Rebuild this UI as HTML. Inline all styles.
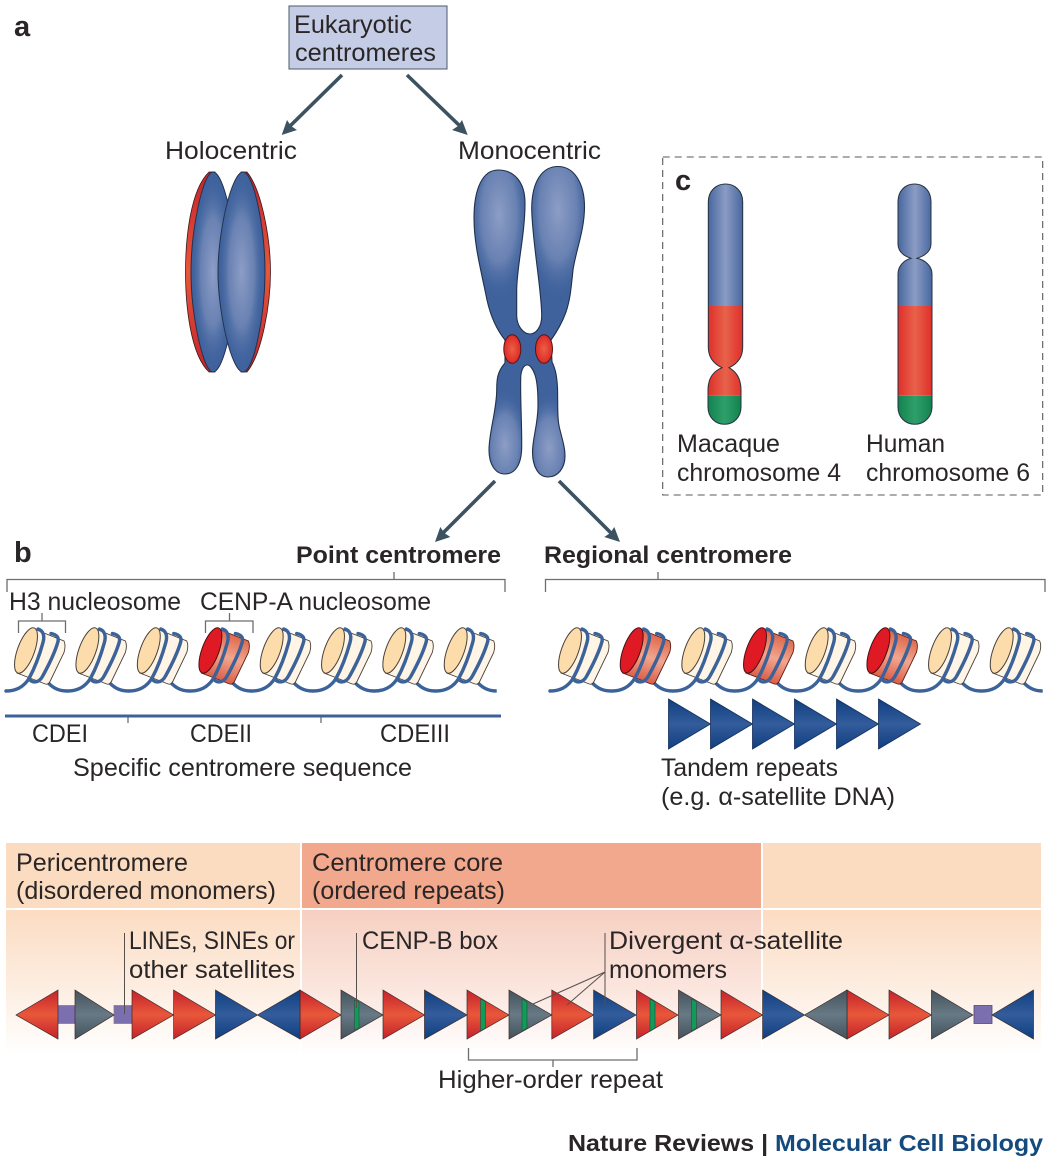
<!DOCTYPE html>
<html><head><meta charset="utf-8"><style>
html,body{margin:0;padding:0;background:#fff}
svg{display:block}
text{font-family:"Liberation Sans",sans-serif;font-size:25px;fill:#2a2627}
.b{font-weight:bold;font-size:24px}
.l{font-weight:bold;font-size:29px}
</style></head><body>
<svg xmlns="http://www.w3.org/2000/svg" width="1050" height="1163" viewBox="0 0 1050 1163">
<defs>
<linearGradient id="gp" x1="0" y1="0" x2="0" y2="1"><stop offset="0" stop-color="#fcdcc2"/><stop offset=".55" stop-color="#fdeee2"/><stop offset="1" stop-color="#fff"/></linearGradient>
<linearGradient id="gc" x1="0" y1="0" x2="0" y2="1"><stop offset="0" stop-color="#f6d0c2"/><stop offset=".55" stop-color="#fbe6de"/><stop offset="1" stop-color="#fff"/></linearGradient>
<linearGradient id="tr" x1="0" y1="0" x2="0" y2="1"><stop offset="0" stop-color="#c5222a"/><stop offset=".5" stop-color="#e8573a"/><stop offset="1" stop-color="#c5222a"/></linearGradient>
<linearGradient id="tb" x1="0" y1="0" x2="0" y2="1"><stop offset="0" stop-color="#0f3f80"/><stop offset=".5" stop-color="#335c9b"/><stop offset="1" stop-color="#0f3f80"/></linearGradient>
<linearGradient id="tg" x1="0" y1="0" x2="0" y2="1"><stop offset="0" stop-color="#44535c"/><stop offset=".5" stop-color="#677985"/><stop offset="1" stop-color="#44535c"/></linearGradient>
<linearGradient id="hb" x1="0" y1="0" x2="1" y2="0"><stop offset="0" stop-color="#47679f"/><stop offset=".5" stop-color="#8b9cc4"/><stop offset="1" stop-color="#47679f"/></linearGradient>
<linearGradient id="hr" x1="0" y1="0" x2="1" y2="0"><stop offset="0" stop-color="#e02f2a"/><stop offset=".5" stop-color="#e7624a"/><stop offset="1" stop-color="#e02f2a"/></linearGradient>
<linearGradient id="hg" x1="0" y1="0" x2="1" y2="0"><stop offset="0" stop-color="#128250"/><stop offset=".5" stop-color="#2f9f6a"/><stop offset="1" stop-color="#128250"/></linearGradient>
<linearGradient id="nb" x1=".65" y1="0" x2=".35" y2="1"><stop offset="0" stop-color="#d95a3c"/><stop offset=".5" stop-color="#f2a68f"/><stop offset="1" stop-color="#d8513a"/></linearGradient>
<radialGradient id="glow"><stop offset="0" stop-color="#8d9ec6"/><stop offset=".55" stop-color="#7c90bc" stop-opacity=".7"/><stop offset="1" stop-color="#3f629d" stop-opacity="0"/></radialGradient>
<radialGradient id="ov"><stop offset="0" stop-color="#ec5f45"/><stop offset="1" stop-color="#dd2a26"/></radialGradient>
<clipPath id="cm"><path id="cmp" d="M498,170 C515,170 525,183 525,203 C525,235 517,265 516.7,290 L516.7,316 C517,327 524,334 530,334 C536,334 541.7,327 541.7,316 C541.7,290 532,240 531.7,208 C532,180 543,166.5 558,166.5 C574,166.5 584.5,183 584.5,207 C584.5,230 576,250 573,270 C571,290 570,300 566,312 C562,323 556,333 551,340 L552,362 C556,370 557,378 557.5,388 C558,405 557,420 560,430 C563,442 565,448 565,456 C565,468 558,477 548,477 C538,477 532.5,466 532.5,452 C532.5,438 538,425 538,405 C538,392 537.5,382 535,375 C533,369 530,365 527.3,365 C524,365 521.5,369 520.8,376 C520,395 522,425 521.7,447 C521.5,465 515,474 505,474 C495,474 489,464 489,450 C489,432 496.7,410 496.7,390 C496.7,380 497,372 505,363 L505,340 C497,330 491,318 487,300 C481,270 474,245 474,218 C474,188 483,170 498,170 Z"/></clipPath>
<g id="nw">
<path d="M20,30 C26,37 32,40.5 41,40.5" fill="none" stroke="#3b6299" stroke-width="3.4"/>
<path d="M8,-21.5 L38,-9.5 Q40,-5 38,2 L24,31 Q22,35 18,33 L-9,22.5 Z" fill="#fef5e7" stroke="#4a4038" stroke-width=".9"/>
<ellipse cx="0" cy="0" rx="8.5" ry="24" transform="rotate(20)" fill="#fddcab" stroke="#4a4038" stroke-width="1"/>
</g>
<g id="nr">
<path d="M20,30 C26,37 32,40.5 41,40.5" fill="none" stroke="#3b6299" stroke-width="3.4"/>
<path d="M8,-21.5 L38,-9.5 Q40,-5 38,2 L24,31 Q22,35 18,33 L-9,22.5 Z" fill="url(#nb)" stroke="#5a2018" stroke-width=".9"/>
<ellipse cx="0" cy="0" rx="8.5" ry="24" transform="rotate(20)" fill="#e01a24" stroke="#4a1010" stroke-width="1"/>
</g>
<path id="dn" fill="none" stroke="#3b6299" stroke-width="3.4" stroke-linecap="round" d="M-20,40.5 C-10,40.5 -2,36 3,28 C9,17 14,3 17,-8 C19,-15 17,-20 12,-21.5 M3,28 C6,33 13,33 17,25 C23,14 29,2 32,-9 C33,-14 30,-16 25,-17"/>
</defs>

<!-- panel a -->
<rect x="289" y="6" width="158" height="63" fill="#c5cde6" stroke="#4a5a6a" stroke-width="1"/>
<text x="294" y="33" textLength="118" lengthAdjust="spacingAndGlyphs">Eukaryotic</text>
<text x="295" y="61" textLength="141" lengthAdjust="spacingAndGlyphs">centromeres</text>
<text class="l" x="14" y="36">a</text>
<text x="165" y="159" textLength="132" lengthAdjust="spacingAndGlyphs">Holocentric</text>
<text x="458" y="159" textLength="143" lengthAdjust="spacingAndGlyphs">Monocentric</text>
<g stroke="#3c5260" stroke-width="3.6" fill="none">
<line x1="342" y1="75" x2="288" y2="128"/><line x1="407" y1="75" x2="461" y2="127"/>
<line x1="495" y1="481" x2="441" y2="535"/><line x1="559" y1="481" x2="613" y2="535"/>
</g>
<g fill="#3c5260">
<polygon points="281.7,135 287,120 291,126 297,130"/>
<polygon points="467.7,135 462,120 458,126 452,130"/>
<polygon points="435,542 440.3,527 444.3,533 450.3,537"/>
<polygon points="620,542 614.3,527 610.3,533 604.3,537"/>
</g>

<!-- holocentric -->
<path d="M209,172 C190,190 185.5,240 185.5,272 C185.5,304 190,354 209,372 L215,372 L215,172 Z" fill="url(#tr)" stroke="#3a1a1a" stroke-width=".8"/>
<path d="M247,172 C262,190 270.5,240 270.5,272 C270.5,304 262,354 247,372 L241,372 L241,172 Z" fill="url(#tr)" stroke="#3a1a1a" stroke-width=".8"/>
<path d="M213,172 C203,172 191,230 191,272 C191,314 203,372 213,372 C224,372 236,314 236,272 C236,230 224,172 213,172 Z" fill="#3f629d" stroke="#22304a" stroke-width="1"/>
<ellipse cx="213" cy="272" rx="22" ry="98" fill="url(#glow)"/>
<path d="M243,172 C232,172 218,230 218,272 C218,314 232,372 243,372 C254,372 265,314 265,272 C265,230 254,172 243,172 Z" fill="#3f629d" stroke="#22304a" stroke-width="1"/>
<ellipse cx="241.5" cy="272" rx="23" ry="99" fill="url(#glow)"/>

<!-- monocentric -->
<path d="M498,170 C515,170 525,183 525,203 C525,235 517,265 516.7,290 L516.7,316 C517,327 524,334 530,334 C536,334 541.7,327 541.7,316 C541.7,290 532,240 531.7,208 C532,180 543,166.5 558,166.5 C574,166.5 584.5,183 584.5,207 C584.5,230 576,250 573,270 C571,290 570,300 566,312 C562,323 556,333 551,340 L552,362 C556,370 557,378 557.5,388 C558,405 557,420 560,430 C563,442 565,448 565,456 C565,468 558,477 548,477 C538,477 532.5,466 532.5,452 C532.5,438 538,425 538,405 C538,392 537.5,382 535,375 C533,369 530,365 527.3,365 C524,365 521.5,369 520.8,376 C520,395 522,425 521.7,447 C521.5,465 515,474 505,474 C495,474 489,464 489,450 C489,432 496.7,410 496.7,390 C496.7,380 497,372 505,363 L505,340 C497,330 491,318 487,300 C481,270 474,245 474,218 C474,188 483,170 498,170 Z" fill="#3f629d"/>
<g clip-path="url(#cm)">
<ellipse cx="499" cy="215" rx="32" ry="85" fill="url(#glow)"/>
<ellipse cx="558" cy="210" rx="34" ry="90" fill="url(#glow)"/>
<ellipse cx="505" cy="445" rx="24" ry="55" fill="url(#glow)"/>
<ellipse cx="549" cy="448" rx="24" ry="55" fill="url(#glow)"/>
</g>
<use href="#cmp" fill="none" stroke="#22304a" stroke-width="1.1"/>
<ellipse cx="512.3" cy="349" rx="8.5" ry="14.3" fill="url(#ov)" stroke="#5a1414" stroke-width="1"/>
<ellipse cx="544" cy="349" rx="8.5" ry="14.3" fill="url(#ov)" stroke="#5a1414" stroke-width="1"/>

<!-- panel c -->
<rect x="662.7" y="157" width="380" height="338" fill="none" stroke="#55585c" stroke-width="1.1" stroke-dasharray="7 5"/>
<text class="l" x="675" y="190">c</text>
<path d="M708.3,306 V202 C708.3,191 716,184 725.5,184 C735,184 742.7,191 742.7,202 V306 Z" fill="url(#hb)"/>
<path d="M708.3,306 H742.7 V347 C742.7,358 737,364 729,367.7 C735,371 741,377 741,390 V395.7 H708 V390 C708,377 714,371 722,367.7 C714,364 708.3,358 708.3,347 Z" fill="url(#hr)"/>
<path d="M708,395.7 H741 V407 C741,417 734,424.3 724.5,424.3 C715,424.3 708,417 708,407 Z" fill="url(#hg)"/>
<path d="M708.3,347 V202 C708.3,191 716,184 725.5,184 C735,184 742.7,191 742.7,202 V347 C742.7,358 737,364 729,367.7 C735,371 741,377 741,390 V407 C741,417 734,424.3 724.5,424.3 C715,424.3 708,417 708,407 V390 C708,377 714,371 722,367.7 C714,364 708.3,358 708.3,347 Z" fill="none" stroke="#26303c" stroke-width="1"/>
<path d="M898,306 V274 C898,266 904,260 911,258.3 C904,256 898,252 898,244 V202 C898,191 905,184 914.5,184 C924,184 931,191 931,202 V244 C931,252 924,256 917,258.3 C925,260 932,266 932,274 V306 Z" fill="url(#hb)"/>
<rect x="898" y="306" width="34" height="89.7" fill="url(#hr)"/>
<path d="M898,395.7 H932 V407 C932,417 924,424.3 915,424.3 C905,424.3 898,417 898,407 Z" fill="url(#hg)"/>
<path d="M898,407 V274 C898,266 904,260 911,258.3 C904,256 898,252 898,244 V202 C898,191 905,184 914.5,184 C924,184 931,191 931,202 V244 C931,252 924,256 917,258.3 C925,260 932,266 932,274 V407 C932,417 924,424.3 915,424.3 C905,424.3 898,417 898,407 Z" fill="none" stroke="#26303c" stroke-width="1"/>
<text x="677" y="452" textLength="103" lengthAdjust="spacingAndGlyphs">Macaque</text>
<text x="677" y="481" textLength="164" lengthAdjust="spacingAndGlyphs">chromosome 4</text>
<text x="866" y="452" textLength="79" lengthAdjust="spacingAndGlyphs">Human</text>
<text x="866" y="481" textLength="164" lengthAdjust="spacingAndGlyphs">chromosome 6</text>

<!-- panel b -->
<text class="l" x="14" y="562">b</text>
<text class="b" x="296" y="563" textLength="205" lengthAdjust="spacingAndGlyphs">Point centromere</text>
<text class="b" x="544" y="563" textLength="248" lengthAdjust="spacingAndGlyphs">Regional centromere</text>
<g fill="none" stroke="#6d6e70" stroke-width="1.3">
<path d="M7,592 V579.5 H505 V592 M394,579.5 V572"/>
<path d="M545.5,592 V579.5 H1045 V592 M658,579.5 V572"/>
<path d="M18.5,633 V621 H65.5 V633 M42,621 V613"/>
<path d="M205.5,633 V621 H253 V633 M229.5,621 V613"/>
<path d="M128,716 V723 M321,716 V723"/>
</g>
<text x="9" y="610" textLength="172" lengthAdjust="spacingAndGlyphs">H3 nucleosome</text>
<text x="200" y="610" textLength="231" lengthAdjust="spacingAndGlyphs">CENP-A nucleosome</text>

<g transform="translate(26,650.5)"><use href="#nw"/><use href="#dn"/></g>
<g transform="translate(87.4,650.5)"><use href="#nw"/><use href="#dn"/></g>
<g transform="translate(148.8,650.5)"><use href="#nw"/><use href="#dn"/></g>
<g transform="translate(210.4,650.5)"><use href="#nr"/><use href="#dn"/></g>
<g transform="translate(271.7,650.5)"><use href="#nw"/><use href="#dn"/></g>
<g transform="translate(333,650.5)"><use href="#nw"/><use href="#dn"/></g>
<g transform="translate(394.3,650.5)"><use href="#nw"/><use href="#dn"/></g>
<g transform="translate(455.7,650.5)"><use href="#nw"/><use href="#dn"/></g>

<g transform="translate(570,650.5)"><use href="#nw"/><use href="#dn"/></g>
<g transform="translate(631.7,650.5)"><use href="#nr"/><use href="#dn"/></g>
<g transform="translate(693.3,650.5)"><use href="#nw"/><use href="#dn"/></g>
<g transform="translate(755,650.5)"><use href="#nr"/><use href="#dn"/></g>
<g transform="translate(816.7,650.5)"><use href="#nw"/><use href="#dn"/></g>
<g transform="translate(878.4,650.5)"><use href="#nr"/><use href="#dn"/></g>
<g transform="translate(940,650.5)"><use href="#nw"/><use href="#dn"/></g>
<g transform="translate(1001.7,650.5)"><use href="#nw"/><use href="#dn"/></g>

<rect x="5" y="714.5" width="496" height="3" fill="#3b6299"/>
<text x="32" y="742" textLength="56" lengthAdjust="spacingAndGlyphs">CDEI</text>
<text x="190" y="742" textLength="62" lengthAdjust="spacingAndGlyphs">CDEII</text>
<text x="380" y="742" textLength="70" lengthAdjust="spacingAndGlyphs">CDEIII</text>
<text x="73" y="776" textLength="339" lengthAdjust="spacingAndGlyphs">Specific centromere sequence</text>

<g fill="url(#tb)" stroke="#16305c" stroke-width=".8">
<polygon points="668.5,699 710.5,724 668.5,749"/>
<polygon points="710.5,699 752.5,724 710.5,749"/>
<polygon points="752.5,699 794.5,724 752.5,749"/>
<polygon points="794.5,699 836.5,724 794.5,749"/>
<polygon points="836.5,699 878.5,724 836.5,749"/>
<polygon points="878.5,699 920.5,724 878.5,749"/>
</g>
<text x="661" y="776" textLength="177" lengthAdjust="spacingAndGlyphs">Tandem repeats</text>
<text x="661" y="805" textLength="234" lengthAdjust="spacingAndGlyphs">(e.g. α-satellite DNA)</text>

<!-- lower band -->
<rect x="6" y="843" width="294" height="65" fill="#fcdcc0"/>
<rect x="302" y="843" width="459" height="65" fill="#f2a88c"/>
<rect x="763" y="843" width="278" height="65" fill="#fcdcc0"/>
<rect x="6" y="910" width="294" height="145" fill="url(#gp)"/>
<rect x="302" y="910" width="459" height="145" fill="url(#gc)"/>
<rect x="763" y="910" width="278" height="145" fill="url(#gp)"/>
<text x="16" y="871" textLength="172" lengthAdjust="spacingAndGlyphs">Pericentromere</text>
<text x="16" y="899" textLength="260" lengthAdjust="spacingAndGlyphs">(disordered monomers)</text>
<text x="312" y="871" textLength="191" lengthAdjust="spacingAndGlyphs">Centromere core</text>
<text x="312" y="899" textLength="193" lengthAdjust="spacingAndGlyphs">(ordered repeats)</text>
<text x="129" y="949" textLength="166" lengthAdjust="spacingAndGlyphs">LINEs, SINEs or</text>
<text x="129" y="978" textLength="166" lengthAdjust="spacingAndGlyphs">other satellites</text>
<text x="362" y="949" textLength="136" lengthAdjust="spacingAndGlyphs">CENP-B box</text>
<text x="609" y="949" textLength="234" lengthAdjust="spacingAndGlyphs">Divergent α-satellite</text>
<text x="609" y="978" textLength="118" lengthAdjust="spacingAndGlyphs">monomers</text>

<g stroke="#8c8178" stroke-width=".8">
<rect x="57.5" y="1005.5" width="18" height="18" fill="#7c6fb0"/>
<rect x="114" y="1005.5" width="18" height="18" fill="#7c6fb0"/>
<rect x="974" y="1005.5" width="18" height="18" fill="#7c6fb0" stroke="#4f4a70"/>
</g>
<g stroke="#3a2a2a" stroke-width=".7">
<g fill="url(#tr)">
<polygon points="58,990 16,1015 58,1039"/>
<polygon points="132,990 173.6,1015 132,1039"/>
<polygon points="173.6,990 215.5,1015 173.6,1039"/>
<polygon points="300,990 341,1015 300,1039"/>
<polygon points="383,990 424.5,1015 383,1039"/>
<polygon points="467,990 509,1015 467,1039"/>
<polygon points="551.8,990 593.6,1015 551.8,1039"/>
<polygon points="636.5,990 678,1015 636.5,1039"/>
<polygon points="721,990 762.6,1015 721,1039"/>
<polygon points="847,990 889,1015 847,1039"/>
<polygon points="889,990 931.5,1015 889,1039"/>
</g>
<g fill="url(#tb)">
<polygon points="215.5,990 257.5,1015 215.5,1039"/>
<polygon points="300,990 257.5,1015 300,1039"/>
<polygon points="424.5,990 467,1015 424.5,1039"/>
<polygon points="593.6,990 636,1015 593.6,1039"/>
<polygon points="762.6,990 804.5,1015 762.6,1039"/>
<polygon points="1033.5,990 992,1015 1033.5,1039"/>
</g>
<g fill="url(#tg)">
<polygon points="75,990 114,1015 75,1039"/>
<polygon points="341,990 383,1015 341,1039"/>
<polygon points="509,990 551.8,1015 509,1039"/>
<polygon points="678.5,990 721,1015 678.5,1039"/>
<polygon points="847,990 804.5,1015 847,1039"/>
<polygon points="931.5,990 973,1015 931.5,1039"/>
</g>
</g>
<g fill="#129a58" stroke="#24423a" stroke-width=".5">
<polygon points="354.5,1000 359,1002.5 359,1027.5 354.5,1030"/>
<polygon points="480.5,999 485.5,1002 485.5,1028 480.5,1031"/>
<polygon points="522,999 527,1002 527,1028 522,1031"/>
<polygon points="650,999 655,1002 655,1028 650,1031"/>
<polygon points="691.5,999 696.5,1002 696.5,1028 691.5,1031"/>
</g>
<g fill="none" stroke="#55504c" stroke-width="1">
<line x1="124.5" y1="933" x2="124.5" y2="1014"/>
<line x1="356.5" y1="933" x2="356.5" y2="1008"/>
<line x1="605" y1="933" x2="605" y2="1005"/>
<path d="M605,972 L533,1004 M605,972 L567,1005"/>
</g>
<path d="M468.5,1048 V1060 H637 V1048 M553,1060 V1067" fill="none" stroke="#6d6e70" stroke-width="1.3"/>
<text x="438" y="1088" textLength="225" lengthAdjust="spacingAndGlyphs">Higher-order repeat</text>
<text x="568" y="1151" style="font-weight:bold;font-size:23px" textLength="475" lengthAdjust="spacingAndGlyphs">Nature Reviews | <tspan style="fill:#144a7e">Molecular Cell Biology</tspan></text>
</svg>
</body></html>
